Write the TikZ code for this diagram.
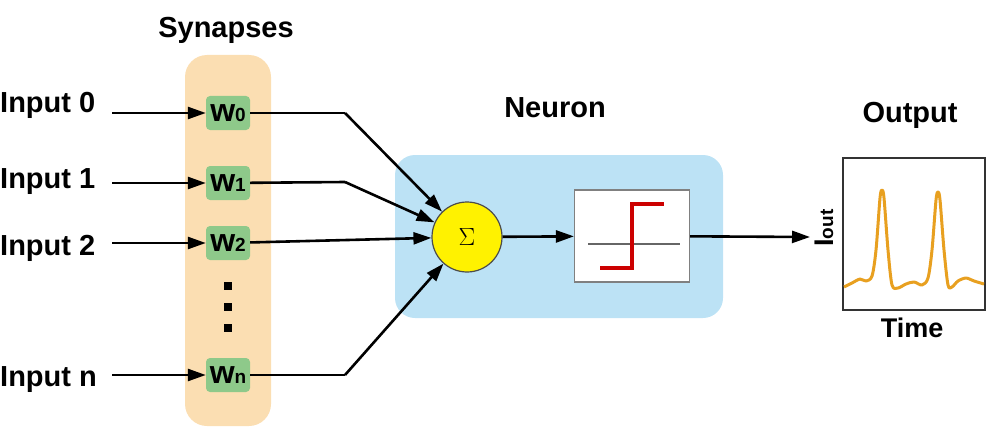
\documentclass[tikz,border=0pt]{standalone}
\usepackage{fontspec}
\setmainfont{Liberation Sans}
\usetikzlibrary{arrows.meta}
\begin{document}
\begin{tikzpicture}[x=1pt,y=-1pt,
  lbl/.style={font=\fontsize{29}{32}\selectfont\bfseries},
  w/.style={draw=none,fill=wgreen,rounded corners=4pt,minimum width=44pt,minimum height=34pt,inner sep=0pt,font=\fontsize{32}{32}\selectfont\bfseries},
  arr/.style={line width=2.6pt,-{Triangle[length=18pt,width=12pt]}},
  ln/.style={line width=2.6pt}]
\definecolor{wgreen}{HTML}{8EC98A}
\definecolor{orng}{HTML}{FBDEB2}
\definecolor{nblue}{HTML}{BCE2F5}
\definecolor{spk}{HTML}{E8A020}
\useasboundingbox (0,0) rectangle (1000,441);
\fill[orng,rounded corners=22pt] (185,55) rectangle (271,426);
\node[lbl] (syn) at (226,30) {Synapses};
\node[w] (w0) at (228,113) {w{\fontsize{19}{19}\selectfont 0}};
\node[w] (w1) at (228,183) {w{\fontsize{19}{19}\selectfont 1}};
\node[w] (w2) at (228,243) {w{\fontsize{19}{19}\selectfont 2}};
\node[w] (wn) at (228,375) {w{\fontsize{19}{19}\selectfont n}};
\foreach \y in {286,307,328} \fill (224,\y-4) rectangle (232,\y+4);
\node[lbl,anchor=west,inner sep=0pt] (i0) at (0,105) {Input 0};
\node[lbl,anchor=west,inner sep=0pt] (i1) at (0,182) {Input 1};
\node[lbl,anchor=west,inner sep=0pt] (i2) at (0,248) {Input 2};
\node[lbl,anchor=west,inner sep=0pt] (in) at (0,380) {Input n};
\coordinate (s0) at (112,113); \coordinate (s1) at (112,183);
\coordinate (s2) at (112,243); \coordinate (sn) at (112,375);
\draw[arr] (s0) -- (w0); \draw[arr] (s1) -- (w1);
\draw[arr] (s2) -- (w2); \draw[arr] (sn) -- (wn);
\fill[nblue,rounded corners=20pt] (395,155) rectangle (723,318);
\node[lbl] (neu) at (555,108) {Neuron};
\node[circle,draw=black!70,line width=1.2pt,fill=yellow,minimum size=70pt,inner sep=0pt,font=\fontsize{40}{40}\selectfont] (sum) at (467,237) {$\Sigma$};
\node[draw=gray,line width=1.2pt,fill=white,minimum width=115pt,minimum height=92pt,inner sep=0pt] (act) at (632,236) {};
\draw[gray!80!black,line width=1.5pt] (588,244) -- (680,244);
\draw[red!80!black,line width=3.5pt] (600,268) -- (632,268) -- (632,204) -- (664,204);
\coordinate (k0) at (345,113); \coordinate (k1) at (345,182); \coordinate (kn) at (345,375);
\draw[ln] (w0) -- (k0); \draw[arr] (k0) -- (sum);
\draw[ln] (w1) -- (k1); \draw[arr] (k1) -- (sum);
\draw[arr] (w2) -- (sum);
\draw[ln] (wn) -- (kn); \draw[arr] (kn) -- (sum);
\draw[arr] (sum) -- (act);
\coordinate (oe) at (810,237);
\draw[arr] (act) -- (oe);
\node[lbl] (out) at (910,115) {Output};
\node[draw=black!80,line width=1.5pt,minimum width=142pt,minimum height=152pt,inner sep=0pt] (plot) at (914,234) {};
\node[rotate=90,font=\fontsize{27}{28}\selectfont\bfseries] (iout) at (824,228) {I{\fontsize{19}{19}\selectfont out}};
\node[font=\fontsize{27}{30}\selectfont\bfseries] (time) at (912,328) {Time};
\draw[spk,line width=3pt,line join=round] plot[smooth,tension=0.5] coordinates {
(844,287) (852,283) (860,279) (866,281) (872,276) (876,250) (880,198) (882,190) (884,198) (888,250) (892,285) (898,288) (906,284) (914,282) (922,285) (928,278) (932,250) (936,200) (938,192) (940,200) (944,250) (948,285) (952,287) (958,281) (966,278) (974,281) (984,284)};
\end{tikzpicture}
\end{document}
